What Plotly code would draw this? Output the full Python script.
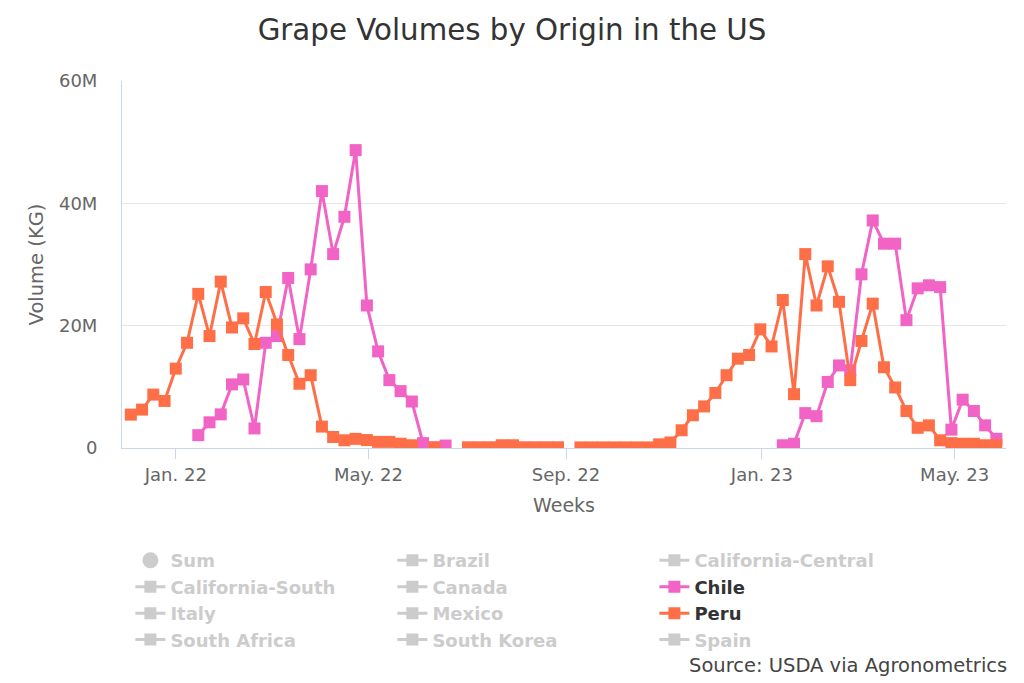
import pandas as pd
import plotly.graph_objects as go

# ---- data (million kg, weekly) ----
WEEK_START = "2021-12-04"
N_WEEKS = 78
weeks = pd.date_range(WEEK_START, periods=N_WEEKS, freq="7D")

chile = [None, None, None, None, None, None,
         2.1, 4.2, 5.5, 10.4, 11.2, 3.2, 17.2, 18.3, 27.8, 17.8,
         29.2, 42.0, 31.7, 37.8, 48.7, 23.3, 15.8, 11.1, 9.3, 7.6,
         0.8, 0.1, 0.4, None, 0.05, 0.05, 0.05, 0.1, 0.05, 0.05,
         0.05, 0.05, 0.05,
         None, None, None, None, None, None, None, None, None, None,
         None, None, None, None, None, None, None, None, None,
         0.45, 0.7, 5.7, 5.2, 10.8, 13.5, 12.7, 28.4, 37.2, 33.4,
         33.4, 20.9, 26.1, 26.6, 26.3, 3.0, 7.9, 6.05, 3.7, 1.5]

peru = [5.46, 6.28, 8.73, 7.69, 12.98, 17.2, 25.2, 18.3, 27.2, 19.7,
        21.2, 17.0, 25.5, 20.2, 15.2, 10.5, 11.9, 3.5, 1.8, 1.26,
        1.5, 1.3, 1.0, 1.0, 0.7, 0.45, None, 0.1, None, None,
        0.1, 0.1, 0.1, 0.45, 0.45, 0.1, 0.1, 0.1, 0.1, None,
        0.1, 0.1, 0.1, 0.1, 0.1, 0.1, 0.1, 0.6, 0.9, 2.9,
        5.35, 6.8, 9.0, 11.9, 14.6, 15.2, 19.4, 16.6, 24.2, 8.8,
        31.7, 23.3, 29.7, 23.9, 11.1, 17.5, 23.6, 13.2, 9.9, 6.05,
        3.3, 3.7, 1.26, 0.8, 0.7, 0.7, 0.45, 0.45]

legend_names = ["Sum", "Brazil", "California-Central", "California-South",
                "Canada", "Chile", "Italy", "Mexico", "Peru",
                "South Africa", "South Korea", "Spain"]
shown = {"Chile": ("#f263c6", chile), "Peru": ("#ff6f47", peru)}

x_tick_dates = ["2022-01-01", "2022-05-01", "2022-09-01", "2023-01-01", "2023-05-01"]
x_tick_text = ["Jan. 22", "May. 22", "Sep. 22", "Jan. 23", "May. 23"]
y_tick_vals = [0, 20e6, 40e6, 60e6]
y_tick_text = ["0", "20M", "40M", "60M"]

FONT = "DejaVu Sans"
GREY = "#cccccc"

fig = go.Figure()
for name in legend_names:
    if name in shown:
        color, vals = shown[name]
        yv = [None if v is None else v * 1e6 for v in vals]
        fig.add_trace(go.Scatter(
            x=weeks, y=yv, name=name, mode="lines+markers",
            line=dict(color=color, width=3),
            marker=dict(symbol="square", size=12, color=color),
            connectgaps=False, showlegend=True))
    elif name == "Sum":
        fig.add_trace(go.Scatter(
            x=[None], y=[None], name=f'<span style="color:{GREY}">{name}</span>',
            mode="markers", marker=dict(symbol="circle", size=17, color=GREY)))
    else:
        fig.add_trace(go.Scatter(
            x=[None], y=[None], name=f'<span style="color:{GREY}">{name}</span>',
            mode="lines+markers", line=dict(color=GREY, width=3),
            marker=dict(symbol="square", size=12, color=GREY)))

fig.update_layout(
    width=1024, height=683,
    margin=dict(l=122, r=18, t=81, b=235),
    paper_bgcolor="white", plot_bgcolor="white",
    font=dict(family=FONT, color="#666666"),
    title=dict(text="Grape Volumes by Origin in the US", x=0.5, xref="container",
               xanchor="center", y=1 - 30 / 683, yref="container", yanchor="middle",
               font=dict(family=FONT, size=29.3, color="#333333")),
    xaxis=dict(type="date", range=["2021-11-28 12:00", "2023-06-02"],
               tickvals=x_tick_dates, ticktext=x_tick_text,
               ticks="outside", ticklen=10, tickcolor="#ccd6eb", tickwidth=1,
               showline=True, linecolor="#ccd6eb", linewidth=1,
               showgrid=False, zeroline=False,
               tickfont=dict(family=FONT, size=18, color="#666666"),
               title=dict(text="Weeks", font=dict(family=FONT, size=19, color="#666666"),
                          standoff=15)),
    yaxis=dict(range=[0, 60e6], tickvals=y_tick_vals, ticktext=y_tick_text,
               showline=True, linecolor="#ccd6eb", linewidth=1,
               showgrid=True, gridcolor="#e6e6e6", gridwidth=1, zeroline=False,
               ticks="outside", ticklen=20, tickcolor="rgba(0,0,0,0)",
               tickfont=dict(family=FONT, size=18, color="#666666"),
               title=dict(text="Volume (KG)", font=dict(family=FONT, size=19.5, color="#666666"),
                          standoff=10)),
    legend=dict(orientation="h", x=0.0095, xanchor="left", y=-0.2565, yanchor="top",
                entrywidth=217, entrywidthmode="pixels",
                font=dict(family=FONT, size=18, color="#333333", weight="bold"),
                bgcolor="rgba(0,0,0,0)", traceorder="normal"),
    annotations=[dict(text="Source: USDA via Agronometrics", xref="paper", yref="paper",
                      x=1, xanchor="right", xshift=3, y=-0.5926, yanchor="middle",
                      showarrow=False,
                      font=dict(family=FONT, size=19.5, color="#444444"))],
)

fig.write_html("out.html")
